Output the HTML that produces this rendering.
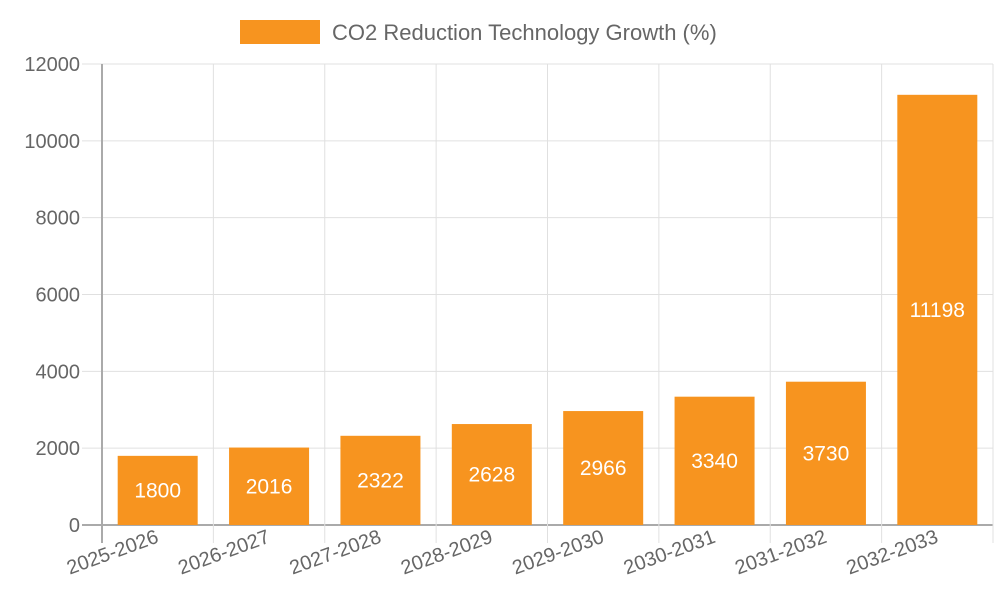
<!DOCTYPE html>
<html><head><meta charset="utf-8"><style>
body{margin:0;background:#fff}
svg text{font-family:"Liberation Sans",sans-serif}
</style></head><body>
<svg id="chart" width="1000" height="600">
<g>
<rect x="240" y="20" width="80" height="24" fill="#f7941f"/>
<text x="332" y="40" font-size="22" fill="#666">CO2 Reduction Technology Growth (%)</text>
</g>
<g id="grid"></g><g id="bars"></g><g id="labels"></g>
</svg>
<script>
const categories=["2025-2026","2026-2027","2027-2028","2028-2029","2029-2030","2030-2031","2031-2032","2032-2033"];
const values=[1800,2016,2322,2628,2966,3340,3730,11198];
const yTicks=[0,2000,4000,6000,8000,10000,12000];
const L=102,R=993,T=64,B=525,yMax=12000;
const ns="http://www.w3.org/2000/svg";
const y=v=>B-(v/yMax)*(B-T);
const cw=(R-L)/categories.length;
const x=i=>L+cw*i;
function mk(tag,attrs,parent,txt){const e=document.createElementNS(ns,tag);for(const k in attrs)e.setAttribute(k,attrs[k]);if(txt!==undefined)e.textContent=txt;document.getElementById(parent).appendChild(e);return e;}
yTicks.forEach(t=>{
  const l=mk('line',{x1:82,x2:R,y1:y(t),y2:y(t),stroke:t===0?'#aaa':'#e0e0e0','stroke-width':t===0?2:1},'grid');
  
  
  const tx=mk('text',{x:80,y:y(t)+7,'text-anchor':'end','font-size':20,fill:'#666'},'grid',t);
  
  
});
for(let i=0;i<=categories.length;i++){
  const l=mk('line',{x1:x(i),x2:x(i),y1:T,y2:543,stroke:i===0?'#aaa':'#e0e0e0','stroke-width':i===0?2:1},'grid');
  
  
}
categories.forEach((c,i)=>{
  const cx=x(i)+cw/2,bw=80;
  const r=mk('rect',{x:cx-bw/2,y:y(values[i]),width:bw,height:B-y(values[i]),fill:'#f7941f'},'bars');
  
  
  const v=mk('text',{x:cx,y:(y(values[i])+B)/2+7,'text-anchor':'middle','font-size':21,fill:'#fff'},'labels',values[i]);
  
  
  const t=mk('text',{x:cx+2,y:542,'text-anchor':'end','font-size':20,fill:'#666',transform:`rotate(-20 ${cx+2} 542)`},'labels',c);
  
  
});
</script>
</body></html>
